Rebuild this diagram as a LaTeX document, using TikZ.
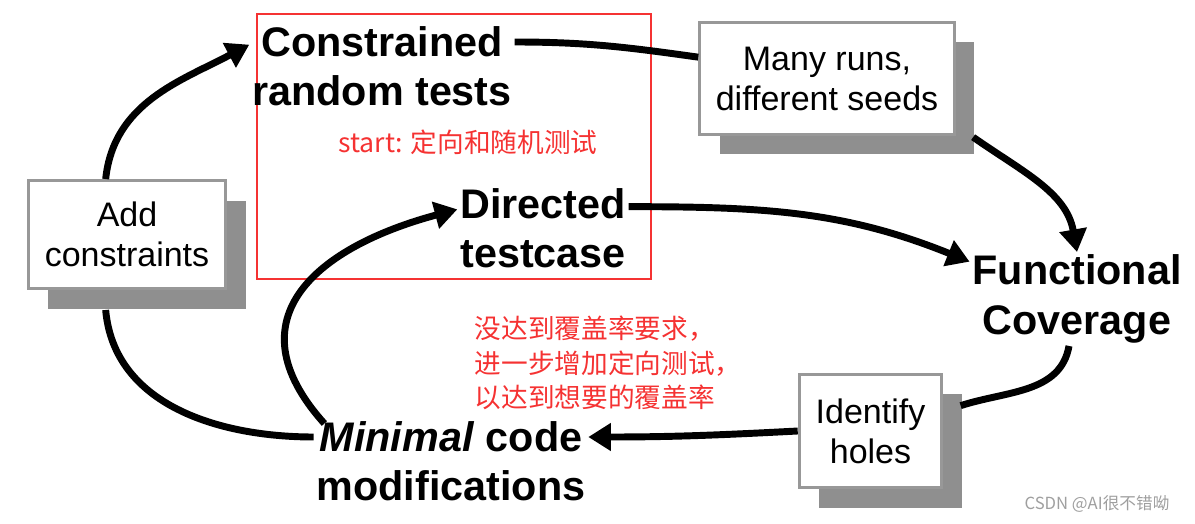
\documentclass[tikz,border=0pt]{standalone}
\usepackage{fontspec}
\setmainfont{Liberation Sans}
\newfontfamily\cjk{Noto Sans CJK SC}
\usetikzlibrary{arrows.meta,shadows}
\definecolor{notered}{RGB}{245,50,50}
\definecolor{shadegray}{RGB}{143,143,143}
\definecolor{rimgray}{RGB}{152,152,152}

\begin{document}
\begin{tikzpicture}[x=0.75pt,y=0.75pt,every node/.style={inner sep=2pt},
  stage/.style={font=\bfseries\fontsize{31}{37}\selectfont,align=center},
  stepbox/.style={draw=rimgray,line width=2.2pt,fill=white,align=center,
    font=\fontsize{25.5}{30}\selectfont,
    drop shadow={shadow xshift=15pt,shadow yshift=-15pt,fill=shadegray,opacity=1}},
  flow/.style={line width=5.2pt,-{Triangle[length=17pt,width=20pt]}},
  link/.style={line width=5.2pt},
  note/.style={text=notered,font=\cjk\fontsize{20}{26}\selectfont}]
  \useasboundingbox (0,0) rectangle (1195,-524);
  \draw[notered,line width=0.8pt] (257,-14) rectangle (651,-279);
  % stages
  \node[stage] (crt) at (382,-66) {Constrained\\random tests};
  \node[stage] (dir) at (543,-228) {Directed\\testcase};
  \node[stage] (fc) at (1077,-299) {Functional\\Coverage};
  \node[stage] (mcm) at (451,-461) {\textit{Minimal} code\\modifications};
  % boxes
  \node[stepbox,minimum width=148pt,minimum height=81pt] (add) at (127,-234.5) {Add\\constraints};
  \node[stepbox,minimum width=191pt,minimum height=84pt] (runs) at (827,-78.5) {Many runs,\\different seeds};
  \node[stepbox,minimum width=107pt,minimum height=85pt] (holes) at (870.5,-431) {Identify\\holes};
  % notes
  \node[note] (start) at (468,-142) {start: 定向和随机测试};
  \node[note,anchor=west,align=left] (more) at (472,-363) {没达到覆盖率要求，\\进一步增加定向测试，\\以达到想要的覆盖率};
  \node[text=gray!75,font=\cjk\fontsize{12.5}{14}\selectfont] (wmark) at (1097,-504) {CSDN @AI很不错呦};
  % loop
  \draw[flow] ([xshift=-16pt]add.north) to[out=84,in=208] ([yshift=16pt]crt.west);
  \draw[link] ([yshift=18pt]crt.east) to[out=0,in=172] ([yshift=16pt]runs.west);
  \draw[flow] ([xshift=13pt,yshift=-44pt]runs.east) to[out=-35,in=100] (fc.north);
  \draw[flow] ([yshift=16pt]dir.east) to[out=0,in=158] ([yshift=28pt]fc.west);
  \draw[link] ([xshift=-6pt]fc.south) to[out=-100,in=18] ([xshift=13pt,yshift=19pt]holes.east);
  \draw[flow] (holes.west) to[out=183,in=0] ([yshift=18pt]mcm.east);
  \draw[link] ([xshift=-16pt,yshift=-15pt]add.south) to[out=-85,in=180] ([yshift=18pt]mcm.west);
  \draw[flow] ([xshift=8pt,yshift=-4pt]mcm.north west) to[out=132,in=195,looseness=1.45] ([yshift=14pt]dir.west);
\end{tikzpicture}
\end{document}
